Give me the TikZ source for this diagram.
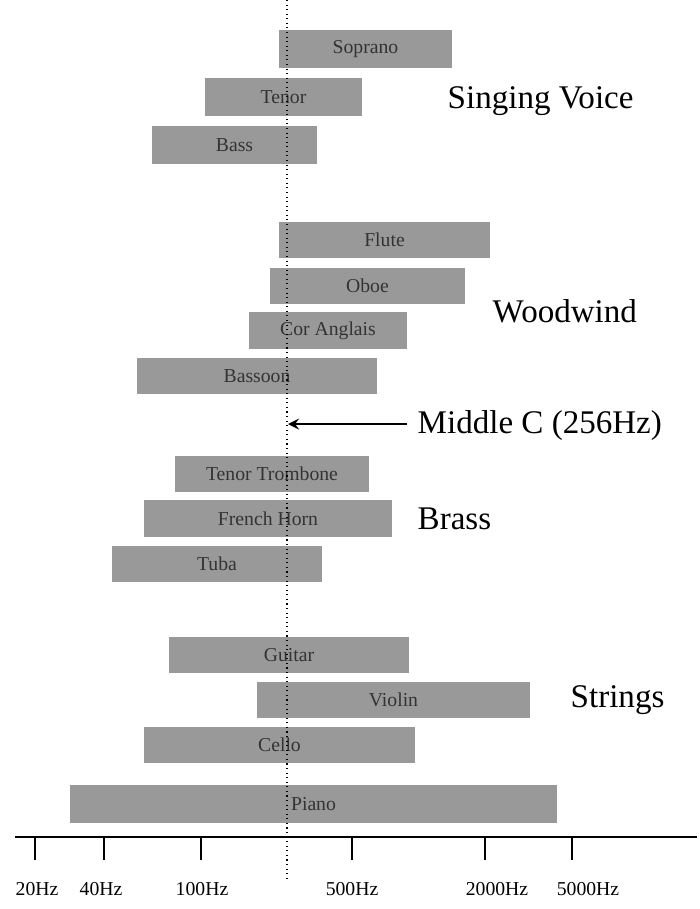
\documentclass[tikz,border=0pt]{standalone}
\usepackage{fontspec}
\setmainfont{Liberation Serif}
\begin{document}
\begin{tikzpicture}[x=0.01cm,y=-0.01cm,
  bar/.style={fill=black!40,draw=none,inner sep=0},
  lab/.style={font=\fontsize{5.6pt}{6pt}\selectfont,text=black!80},
  big/.style={font=\fontsize{9.4pt}{10pt}\selectfont,anchor=west,inner sep=0},
  tick/.style={font=\fontsize{5.6pt}{6pt}\selectfont}]
\useasboundingbox (0,0) rectangle (700,909);
\newcommand{\ibar}[6]{\fill[black!40] (#2,#4) rectangle (#3,#5);
  \node[lab] (#1) at ({(#2+#3)/2},{(#4+#5)/2}) {#6};}
\ibar{sop}{279}{452}{30}{68}{Soprano}
\ibar{ten}{205}{362}{78}{116}{Tenor}
\ibar{bas}{152}{317}{126}{164}{Bass}
\ibar{flu}{279}{490}{222}{258}{Flute}
\ibar{obo}{270}{465}{268}{304}{Oboe}
\ibar{cor}{249}{407}{312}{349}{Cor Anglais}
\ibar{bsn}{137}{377}{358}{394}{Bassoon}
\ibar{ttb}{175}{369}{456}{492}{Tenor Trombone}
\ibar{frh}{144}{392}{500}{537}{French Horn}
\ibar{tub}{112}{322}{546}{582}{Tuba}
\ibar{gui}{169}{409}{637}{673}{Guitar}
\ibar{vio}{257}{530}{682}{718}{Violin}
\ibar{cel}{144}{415}{727}{763}{Cello}
\ibar{pia}{70}{557}{785}{823}{Piano}
\draw[densely dotted,line width=0.3pt] (287,0) -- (287,880);
\draw[line width=0.5pt] (15,837) -- (697,837);
\foreach \x/\t/\lx in {35/20Hz/37,104/40Hz/101,201/100Hz/202,352/500Hz/352,485/2000Hz/497,572/5000Hz/588}{
  \draw[line width=0.5pt] (\x,837) -- (\x,860);
  \node[tick] at (\lx,889) {\t};}
\node[big] (sv) at (447,101) {Singing Voice};
\node[big] (ww) at (492,311) {Woodwind};
\node[big] (mc) at (417,426) {Middle C (256Hz)};
\coordinate (mcp) at (288,424);
\draw[-stealth,line width=0.4pt] (mc.west) ++(-10,-2) -- (mcp);
\node[big] (br) at (417,519) {Brass};
\node[big] (st) at (570,700) {Strings};
\end{tikzpicture}
\end{document}
